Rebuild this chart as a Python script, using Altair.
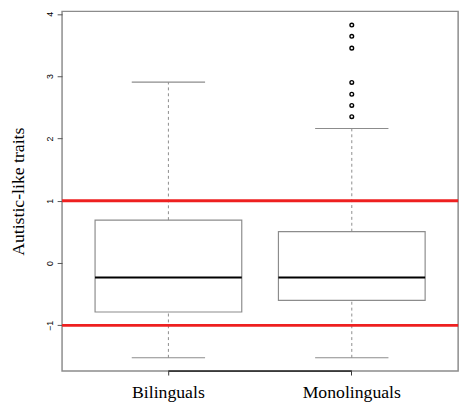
import altair as alt
import pandas as pd

groups = ["Bilinguals", "Monolinguals"]
lower_whisker = [-1.52, -1.52]
q1 = [-0.785, -0.60]
median = [-0.232, -0.232]
q3 = [0.69, 0.505]
upper_whisker = [2.904, 2.16]

outlier_group = ["Monolinguals"] * 7
outlier_values = [3.82, 3.64, 3.45, 2.90, 2.71, 2.53, 2.35]

cutoffs = [1, -1]
y_ticks = [-1, 0, 1, 2, 3, 4]
y_domain = [-1.734, 4.04]

box_df = pd.DataFrame({
    "group": groups, "lo": lower_whisker, "q1": q1,
    "med": median, "q3": q3, "hi": upper_whisker,
})
out_df = pd.DataFrame({"group": outlier_group, "value": outlier_values})
cut_df = pd.DataFrame({"cut": cutoffs})

GRAY = "#8c8c8c"

x_scale = alt.Scale(type="band", domain=groups, paddingInner=0, paddingOuter=0.08)
x_axis = alt.Axis(
    title=None, labelAngle=0, domain=False, bandPosition=0.5,
    tickSize=4, tickColor="#333333", labelFont="Liberation Serif",
    labelFontSize=18, labelColor="black", labelPadding=9, grid=False,
)
x_enc = alt.X("group:N", scale=x_scale, axis=x_axis)
y_scale = alt.Scale(domain=y_domain, nice=False, zero=False)
y_axis = alt.Axis(
    values=y_ticks, title="Autistic-like traits", titleFont="Liberation Serif",
    titleFontSize=18, titleFontWeight="normal", titleColor="black",
    labelAngle=270, labelFont="Liberation Sans", labelFontSize=9,
    labelColor="black", tickColor="#555555", tickSize=5, domain=False,
    grid=False, titlePadding=18, labelPadding=3,
)

box = alt.Chart(box_df).mark_bar(
    width=alt.RelativeBandSize(0.8), fill="white", stroke=GRAY, strokeWidth=1.2,
    opacity=1,
).encode(
    x=x_enc,
    y=alt.Y("q1:Q", scale=y_scale, axis=y_axis),
    y2="q3:Q",
)

whisk_up = alt.Chart(box_df).mark_rule(
    color=GRAY, strokeDash=[3, 3], strokeWidth=1
).encode(x=x_enc, y=alt.Y("q3:Q", scale=y_scale, axis=y_axis), y2="hi:Q")

whisk_lo = alt.Chart(box_df).mark_rule(
    color=GRAY, strokeDash=[3, 3], strokeWidth=1
).encode(x=x_enc, y=alt.Y("lo:Q", scale=y_scale, axis=y_axis), y2="q1:Q")

cap_hi = alt.Chart(box_df).mark_tick(
    orient="horizontal", size=74.6, thickness=1.2, color=GRAY, opacity=1
).encode(x=x_enc, y=alt.Y("hi:Q", scale=y_scale, axis=y_axis))

cap_lo = alt.Chart(box_df).mark_tick(
    orient="horizontal", size=74.6, thickness=1.2, color=GRAY, opacity=1
).encode(x=x_enc, y=alt.Y("lo:Q", scale=y_scale, axis=y_axis))

med = alt.Chart(box_df).mark_tick(
    orient="horizontal", size=149.3, thickness=2.2, color="black", opacity=1
).encode(x=x_enc, y=alt.Y("med:Q", scale=y_scale, axis=y_axis))

outl = alt.Chart(out_df).mark_point(
    shape="circle", filled=False, color="black", size=14, strokeWidth=1.4, opacity=1
).encode(x=x_enc, y=alt.Y("value:Q", scale=y_scale, axis=y_axis))

xaxis_line = alt.Chart(box_df).mark_rule(color="#333333", strokeWidth=1.2).encode(
    x=alt.XDatum(groups[0], type="nominal", scale=x_scale, axis=x_axis),
    x2=alt.X2Datum(groups[-1]),
    y=alt.YDatum(y_domain[0], type="quantitative", scale=y_scale, axis=y_axis),
)

cut = alt.Chart(cut_df).mark_rule(color="#ee2020", strokeWidth=3).encode(
    y=alt.Y("cut:Q", scale=y_scale, axis=y_axis)
)

chart = alt.layer(
    box, whisk_up, whisk_lo, cap_hi, cap_lo, med, outl, xaxis_line, cut
).properties(
    width=403, height=366,
    autosize=alt.AutoSizeParams(type="none"),
    padding={"left": 55, "top": 0, "right": 8, "bottom": 28},
).configure_view(stroke=GRAY, strokeWidth=1.5)

chart.save("out.html", embed_options={"renderer": "svg", "actions": False})
